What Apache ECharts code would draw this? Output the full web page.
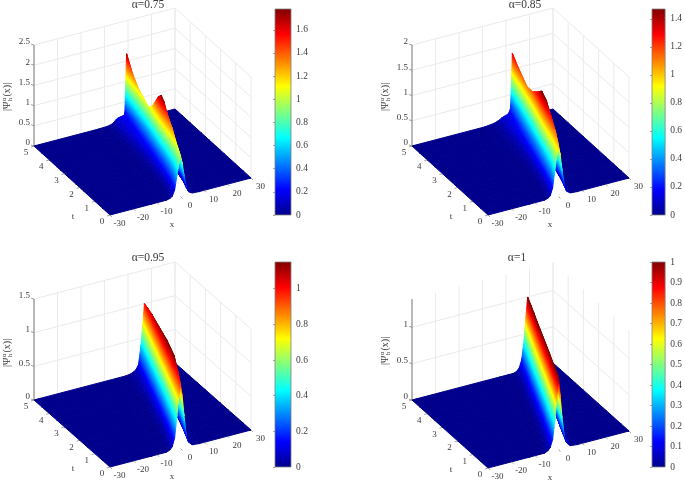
<!DOCTYPE html>
<html>
<head>
<meta charset="utf-8">
<style>html,body{margin:0;padding:0;background:#fff}#c{width:685px;height:482px}</style>
<script src="https://cdn.jsdelivr.net/npm/echarts@6/dist/echarts.min.js"></script>
</head>
<body>
<div id="c"></div>
<script>
// Axis ticks shared by the four surfaces
const xTicks = [-30, -20, -10, 0, 10, 20, 30];
const tTicks = [0, 1, 2, 3, 4, 5];

// The mesh follows the ridge: one row per time, columns are offsets from the crest
const tRows = [0, 0.5, 1, 1.5, 2, 2.5, 3, 3.5, 4, 4.5, 5];
const tRows075 = [0, 0.5, 1, 1.5, 1.75, 2, 2.25, 2.5, 2.75, 3, 3.25, 3.5, 4, 4.5, 5];
const ridgeOffsets = [-12, -8, -6, -4.5, -3.5, -2.5, -1.5, -0.75, 0, 0.75, 1.5, 2.5, 3.5, 5, 8];

// Crest position x for each row
const crest075 = [0, 1.67, 2.81, 3.81, 4.27, 4.73, 5.17, 5.59, 6.0, 6.41, 6.8, 7.2, 7.95, 8.68, 9.4];
const crest085 = [0, 1.8, 3.2, 4.5, 5.8, 7.0, 8.2, 9.3, 10.5, 11.6, 12.7];
const crest095 = [0, 1.9, 3.7, 5.4, 7.1, 8.7, 10.4, 12, 13.7, 15.3, 17];
const crest100 = [0, 1.9, 3.8, 5.8, 7.7, 9.6, 11.5, 13.4, 15.4, 17.3, 19.2];

// Surface height |Psi| per row and offset
const height075 = [
  [0,0,0,.02,.06,.2,.55,.8,1.0,.8,.5,.18,.06,.01,0],
  [0,0,0,.02,.06,.19,.5,.8,1.08,.82,.5,.18,.06,.01,0],
  [0,0,0,.02,.06,.18,.42,.8,1.32,.9,.52,.18,.06,.01,0],
  [0,0,0,.02,.06,.17,.38,.78,1.52,1.0,.52,.17,.06,.01,0],
  [0,0,0,.03,.07,.17,.37,.8,1.68,1.1,.52,.17,.06,.01,0],
  [0,0,0,.03,.07,.17,.35,.78,1.75,1.12,.52,.16,.06,.01,0],
  [0,0,.01,.03,.08,.17,.33,.72,1.62,1.05,.5,.16,.06,.01,0],
  [0,0,.01,.04,.09,.17,.31,.65,1.42,.95,.47,.15,.06,.01,0],
  [0,0,.01,.04,.1,.17,.29,.58,1.22,.85,.44,.15,.05,.01,0],
  [0,0,.02,.05,.1,.17,.27,.52,1.08,.77,.41,.14,.05,.01,0],
  [0,0,.02,.06,.11,.17,.25,.47,1.05,.76,.4,.14,.05,.01,0],
  [0,0,.02,.07,.12,.17,.24,.45,1.1,.78,.4,.14,.05,.01,0],
  [0,.01,.03,.09,.14,.17,.21,.35,1.18,.8,.4,.13,.05,.01,0],
  [0,.01,.03,.11,.15,.16,.19,.28,1.37,.85,.4,.13,.05,.01,0],
  [0,.01,.04,.12,.15,.16,.17,.2,1.68,.9,.4,.13,.05,.01,0]
];
const height085 = [
  [0,0,0,.02,.06,.2,.55,.81,1.01,.81,.5,.18,.06,.01,0],
  [0,0,0,.02,.06,.2,.52,.84,1.15,.86,.52,.18,.06,.01,0],
  [0,0,0,.02,.06,.19,.48,.88,1.29,.92,.54,.18,.06,.01,0],
  [0,0,0,.03,.07,.18,.44,.88,1.44,1.0,.55,.18,.06,.01,0],
  [0,0,.01,.03,.08,.18,.4,.85,1.47,1.02,.55,.18,.06,.01,0],
  [0,0,.01,.04,.09,.18,.36,.72,1.3,.92,.5,.17,.06,.01,0],
  [0,0,.02,.05,.1,.17,.32,.62,1.16,.82,.45,.16,.06,.01,0],
  [0,.01,.02,.06,.1,.16,.28,.52,1.1,.78,.42,.15,.05,.01,0],
  [0,.01,.04,.08,.12,.15,.23,.45,1.15,.8,.42,.14,.05,.01,0],
  [0,.01,.04,.09,.12,.14,.19,.34,1.22,.82,.4,.13,.05,.01,0],
  [0,.02,.05,.09,.11,.12,.15,.24,1.31,.84,.4,.13,.05,.01,0]
];
const height095 = [
  [0,0,0,.02,.06,.18,.5,.76,.95,.76,.47,.16,.06,.01,0],
  [0,0,0,.02,.06,.18,.5,.82,1.06,.82,.5,.17,.06,.01,0],
  [0,0,0,.02,.06,.18,.48,.85,1.15,.86,.5,.17,.06,.01,0],
  [0,0,0,.02,.06,.17,.46,.84,1.15,.86,.5,.17,.06,.01,0],
  [0,0,0,.02,.06,.16,.43,.82,1.15,.85,.48,.16,.06,.01,0],
  [0,0,0,.02,.06,.15,.41,.8,1.13,.84,.47,.16,.05,.01,0],
  [0,0,0,.02,.06,.14,.39,.77,1.11,.82,.46,.15,.05,.01,0],
  [0,0,0,.02,.06,.13,.37,.74,1.09,.8,.45,.15,.05,.01,0],
  [0,0,.01,.03,.06,.13,.35,.71,1.07,.78,.43,.15,.05,.01,0],
  [0,0,.01,.03,.06,.12,.33,.68,1.04,.76,.42,.15,.05,.01,0],
  [0,0,.01,.03,.06,.12,.39,.68,1.0,.73,.4,.14,.05,.01,0]
];
const height100 = [
  [0,0,0,.02,.06,.16,.42,.72,1,.72,.42,.16,.06,.01,0],
  [0,0,0,.02,.06,.16,.42,.72,1,.72,.42,.16,.06,.01,0],
  [0,0,0,.02,.06,.16,.42,.72,1,.72,.42,.16,.06,.01,0],
  [0,0,0,.02,.06,.16,.42,.72,1,.72,.42,.16,.06,.01,0],
  [0,0,0,.02,.06,.16,.42,.72,1,.72,.42,.16,.06,.01,0],
  [0,0,0,.02,.06,.16,.42,.72,1,.72,.42,.16,.06,.01,0],
  [0,0,0,.02,.06,.16,.42,.72,1,.72,.42,.16,.06,.01,0],
  [0,0,0,.02,.06,.16,.42,.72,1,.72,.42,.16,.06,.01,0],
  [0,0,0,.02,.06,.16,.42,.72,1,.72,.42,.16,.06,.01,0],
  [0,0,0,.02,.06,.16,.42,.72,1,.72,.42,.16,.06,.01,0],
  [0,0,0,.02,.06,.16,.42,.72,1,.72,.42,.16,.06,.01,0]
];

// Vertical axis ticks and colour-scale limits
const zTicks075 = [0, 0.5, 1, 1.5, 2, 2.5];
const zTicks085 = [0, 0.5, 1, 1.5, 2];
const zTicks095 = [0, 0.5, 1, 1.5];
const zTicks100 = [0, 0.5, 1];

const panels = [
  { title: 'α=0.75', titleX: 148, titleY: -1, frontX: 110, frontY: 215, backDrop: 69, rows: tRows075, crest: crest075, height: height075, zTicks: zTicks075, zMax: 2.5, cMax: 1.78, cStep: 0.2, barX: 275, barY: 9, barH: 206, nameY: 111 },
  { title: 'α=0.85', titleX: 525, titleY: -1, frontX: 488, frontY: 215, backDrop: 69, rows: tRows, crest: crest085, height: height085, zTicks: zTicks085, zMax: 2, cMax: 1.47, cStep: 0.2, barX: 652, barY: 9, barH: 206, nameY: 111 },
  { title: 'α=0.95', titleX: 148, titleY: 252, frontX: 110, frontY: 467, backDrop: 67, rows: tRows, crest: crest095, height: height095, zTicks: zTicks095, zMax: 1.5, cMax: 1.15, cStep: 0.2, barX: 275, barY: 262, barH: 205, nameY: 367 },
  { title: 'α=1', titleX: 517, titleY: 252, frontX: 488, frontY: 468, backDrop: 68, rows: tRows, crest: crest100, height: height100, zTicks: zTicks100, zMax: 1.39, cMax: 1, cStep: 0.1, barX: 652, barY: 262, barH: 205, nameY: 365 }
];

// Box edges on screen: x runs along (141, 37), t along (-76, back), z straight up
const boxX = 141, boxXUp = 37, boxT = 76, boxZ = 101;
const textFont = '"Liberation Serif", "Times New Roman", serif';
const textColor = '#3a3a3a';

// Jet colormap knots
const jetKnots = [
  [0, 0, 0, 140], [0.125, 0, 0, 255], [0.375, 0, 255, 255],
  [0.625, 255, 255, 0], [0.875, 255, 0, 0], [1, 128, 0, 0]
];
function jet(v) {
  const f = Math.max(0, Math.min(1, v));
  for (let i = 1; i < jetKnots.length; i++) {
    const a = jetKnots[i - 1], b = jetKnots[i];
    if (f <= b[0]) {
      const k = (f - a[0]) / (b[0] - a[0]);
      return 'rgb(' + [1, 2, 3].map(n => Math.round(a[n] + (b[n] - a[n]) * k)).join(',') + ')';
    }
  }
  return 'rgb(128,0,0)';
}
// Colour stops of the jet ramp between two colour fractions
function jetStops(lo, hi) {
  const stops = [];
  const cuts = [lo];
  for (const k of jetKnots) if (k[0] > lo && k[0] < hi) cuts.push(k[0]);
  cuts.push(hi);
  for (const c of cuts) stops.push({ offset: (c - lo) / (hi - lo), color: jet(c) });
  return stops;
}

function project(p, x, t, z) {
  const xn = (x + 30) / 60, tn = t / 5, zn = z / p.zMax;
  return [boxX * xn - boxT * tn, boxXUp * xn + p.backDrop * tn + boxZ * zn];
}

// Back-to-front triangle list of one surface
function surfaceTriangles(p) {
  const rows = p.rows.map((t, i) => {
    const pts = [[-30, t, 0]];
    ridgeOffsets.forEach((o, j) => pts.push([p.crest[i] + o, t, p.height[i][j]]));
    pts.push([30, t, 0]);
    return pts;
  });
  const tris = [];
  for (let i = rows.length - 2; i >= 0; i--) {
    const near = rows[i], far = rows[i + 1];
    for (let j = near.length - 2; j >= 0; j--) {
      tris.push(triangle(p, far[j + 1], far[j], near[j + 1]));
      tris.push(triangle(p, far[j], near[j + 1], near[j]));
    }
  }
  return tris;
}
function triangle(p, a, b, c) {
  const pa = project(p, a[0], a[1], a[2]);
  const pb = project(p, b[0], b[1], b[2]);
  const pc = project(p, c[0], c[1], c[2]);
  return [pa[0], pa[1], pb[0], pb[1], pc[0], pc[1], a[2], b[2], c[2]];
}

function renderTriangle(params, api, cMax) {
  const v = i => api.value(i);
  const a = api.coord([v(0), v(1)]), b = api.coord([v(2), v(3)]), c = api.coord([v(4), v(5)]);
  const za = v(6), zb = v(7), zc = v(8);
  const lo = Math.min(za, zb, zc), hi = Math.max(za, zb, zc);
  let fill = jet((lo + hi) / 2 / cMax);
  const det = (b[0] - a[0]) * (c[1] - a[1]) - (c[0] - a[0]) * (b[1] - a[1]);
  if (hi > lo && Math.abs(det) > 1e-3) {
    // Height varies linearly over the triangle, so a linear gradient colours it exactly
    const gx = ((zb - za) * (c[1] - a[1]) - (zc - za) * (b[1] - a[1])) / det;
    const gy = ((zc - za) * (b[0] - a[0]) - (zb - za) * (c[0] - a[0])) / det;
    const g2 = gx * gx + gy * gy;
    const start = za === lo ? a : zb === lo ? b : c;
    const span = (hi - lo) / g2;
    const f0 = lo / cMax, f1 = Math.min(1, hi / cMax);
    if (f1 > f0) {
      fill = {
        type: 'linear', global: true,
        x: start[0], y: start[1], x2: start[0] + gx * span, y2: start[1] + gy * span,
        colorStops: jetStops(f0, f1)
      };
    }
  }
  return {
    type: 'polygon',
    shape: { points: [a, b, c] },
    style: { fill: fill, stroke: fill, lineWidth: 1, lineJoin: 'round' },
    silent: true
  };
}

function line(from, to, color, width) {
  return {
    type: 'line',
    shape: { x1: from[0], y1: from[1], x2: to[0], y2: to[1] },
    style: { stroke: color, lineWidth: width || 1, fill: null },
    silent: true
  };
}
function label(text, x, y, align, size) {
  return {
    type: 'text', x: x, y: y, silent: true,
    style: { text: text, font: (size || 9) + 'px ' + textFont, fill: textColor, textAlign: align || 'center', textVerticalAlign: 'middle' }
  };
}

// Back walls and their grid lines
function renderWalls(p, api) {
  const at = (x, t, z) => api.coord(project(p, x, t, z));
  const wall = '#ebebeb';
  const out = [];
  xTicks.forEach(x => out.push(line(at(x, 5, 0), at(x, 5, p.zMax), wall)));
  tTicks.forEach(t => out.push(line(at(30, t, 0), at(30, t, p.zMax), wall)));
  p.zTicks.forEach(z => {
    out.push(line(at(-30, 5, z), at(30, 5, z), wall));
    out.push(line(at(30, 5, z), at(30, 0, z), wall));
  });
  return { type: 'group', children: out };
}

// Axis lines, ticks and their labels
function renderAxes(p, api) {
  const at = (x, t, z) => api.coord(project(p, x, t, z));
  const axis = '#7a7a7a';
  const out = [];
  out.push(line(at(-30, 5, 0), at(-30, 5, p.zMax), axis));
  xTicks.forEach(x => {
    const q = at(x, 0, 0);
    out.push(line(q, [q[0] + 2, q[1] + 2], axis, 0.7));
    out.push(label(String(x), q[0] + 9.5, q[1] + 9));
  });
  tTicks.forEach(t => {
    const q = at(-30, t, 0);
    out.push(line(q, [q[0] - 3, q[1] + 1], axis, 0.7));
    out.push(label(String(t), q[0] - 8, q[1] + 7));
  });
  p.zTicks.forEach(z => {
    const q = at(-30, 5, z);
    out.push(line(q, [q[0] - 3, q[1] - 1], axis, 0.7));
    out.push(label(String(z), q[0] - 4, q[1] - 3, 'right'));
  });
  out.push(label('x', p.frontX + 62, p.frontY + 9.5, 'center', 9));
  out.push(label('t', p.frontX - 37, p.frontY + 1.5, 'center', 9));
  // Rotated vertical axis title with its superscript and subscript
  const run = (s, x, y, size) => ({
    type: 'text', x: x, y: y, silent: true,
    style: { text: s, font: size + 'px ' + textFont, fill: textColor, textAlign: 'left', textVerticalAlign: 'middle' }
  });
  out.push({
    type: 'group', x: p.frontX - 103, y: p.nameY, rotation: Math.PI / 2, silent: true,
    children: [run('|Ψ', 0, 0, 10), run('α', 10, -3, 6.5), run('h', 10, 3, 6.5), run('(x)|', 14.5, 0, 10)]
  });
  return { type: 'group', children: out };
}

const grids = [], xAxes = [], yAxes = [], series = [];
panels.forEach(p => {
  // Plot plane: one unit on these hidden axes is one pixel of the projected box
  const hMin = -boxT, hMax = boxX, vMax = boxXUp + p.backDrop + boxZ;
  const idx = grids.length;
  grids.push({ left: p.frontX + hMin, top: p.frontY - vMax, width: hMax - hMin, height: vMax });
  xAxes.push({ type: 'value', gridIndex: idx, min: hMin, max: hMax, show: false });
  yAxes.push({ type: 'value', gridIndex: idx, min: 0, max: vMax, show: false });
  series.push({
    type: 'custom', xAxisIndex: idx, yAxisIndex: idx, coordinateSystem: 'cartesian2d',
    animation: false, silent: true, clip: false, data: [[0, 0]],
    renderItem: (params, api) => renderWalls(p, api)
  });
  series.push({
    type: 'custom', xAxisIndex: idx, yAxisIndex: idx, coordinateSystem: 'cartesian2d',
    animation: false, silent: true, clip: false, progressive: 0,
    encode: { x: 0, y: 1 },
    data: surfaceTriangles(p),
    renderItem: (params, api) => renderTriangle(params, api, p.cMax)
  });
  series.push({
    type: 'custom', xAxisIndex: idx, yAxisIndex: idx, coordinateSystem: 'cartesian2d',
    animation: false, silent: true, clip: false, data: [[0, 0]],
    renderItem: (params, api) => renderAxes(p, api)
  });
});
panels.forEach(p => {
  // Colour bar: a gradient column on its own value axis
  const idx = grids.length;
  grids.push({ left: p.barX, top: p.barY, width: 16, height: p.barH });
  xAxes.push({ type: 'value', gridIndex: idx, min: 0, max: 1, show: false });
  yAxes.push({
    type: 'value', gridIndex: idx, position: 'right', min: 0, max: p.cMax, interval: p.cStep,
    splitLine: { show: false },
    axisLine: { show: false },
    axisTick: { show: true, inside: true, length: 2, lineStyle: { color: '#666', width: 0.6 } },
    axisLabel: {
      show: true, margin: 5, fontFamily: textFont, fontSize: 9.5, color: textColor,
      showMaxLabel: p.cMax === 1, showMinLabel: true
    }
  });
  series.push({
    type: 'custom', xAxisIndex: idx, yAxisIndex: idx, coordinateSystem: 'cartesian2d',
    animation: false, silent: true, z: 1, data: [[0, 0, 1, p.cMax]],
    renderItem: (params, api) => {
      const a = api.coord([api.value(0), api.value(1)]);
      const b = api.coord([api.value(2), api.value(3)]);
      return {
        type: 'rect',
        shape: { x: a[0], y: b[1], width: b[0] - a[0], height: a[1] - b[1] },
        style: {
          stroke: '#808080', lineWidth: 0.8,
          fill: { type: 'linear', x: 0, y: 1, x2: 0, y2: 0, colorStops: jetStops(0, 1) }
        }
      };
    }
  });
});

const chart = echarts.init(document.getElementById('c'), null, { renderer: 'canvas' });
chart.setOption({
  backgroundColor: '#fff',
  animation: false,
  title: panels.map(p => ({
    text: p.title, left: p.titleX, top: p.titleY, textAlign: 'center', padding: 0,
    textStyle: { fontFamily: textFont, fontSize: 11.5, fontWeight: 'normal', color: textColor }
  })),
  grid: grids, xAxis: xAxes, yAxis: yAxes, series: series
});
</script>
</body>
</html>
